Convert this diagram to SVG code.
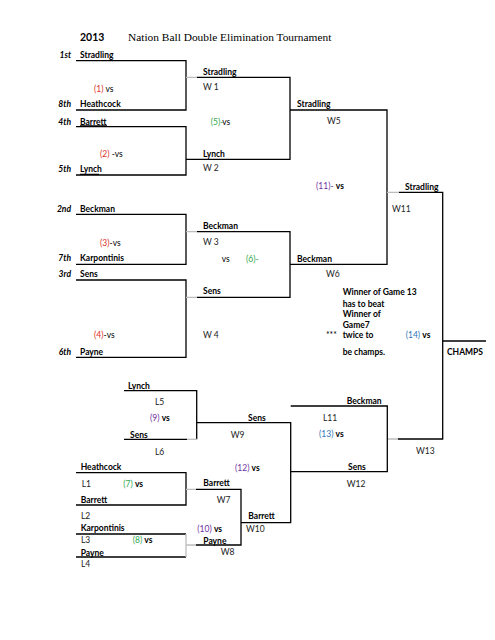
<svg xmlns="http://www.w3.org/2000/svg" width="495" height="640" viewBox="0 0 495 640">
<style>
text{font-family:Lato,"Liberation Sans",sans-serif;font-size:8.5px;fill:#000}
.n{font-weight:bold}
.r{font-weight:bold;font-style:italic;text-anchor:end}
.w{fill:#222}
.b{font-weight:bold}
.red{fill:#e0302a}
.grn{fill:#2fa84f}
.pur{fill:#7030a0}
.blu{fill:#2e75b6}
.t{font-family:"Liberation Serif",serif;font-size:11.4px}
.ln{stroke:#000;stroke-width:1.3;fill:none}
.gr{stroke:#bdbdbd;stroke-width:1.3;fill:none}
</style>
<rect width="495" height="640" fill="#fff"/>
<g id="title">
<text x="80" y="41" class="b" style="font-size:10.5px">2013</text>
<text x="128" y="41" class="t">Nation Ball Double Elimination Tournament</text>
</g>
<g id="connectors">
<path class="ln" d="M76 60.7H186V110H76M76 126.7H186V175H76M76 214.3H186V264.3H76M76 280H186V357.3H76"/>
<path class="ln" d="M80 126H107M80 174.3H99"/>
<path class="ln" d="M197 77.3H290V159.3H186M197 231.7H290V297.3H197"/>
<path class="gr" d="M186 77.3H197M186 231.7H197M186 297.3H197"/>
<path class="ln" d="M290 110H387V264.3H290"/>
<path class="ln" d="M399 192.3H442.7V439H398M442.7 341H486"/>
<path class="gr" d="M387 192.3H399M387.3 439H398"/>
<path class="ln" d="M124 390.7H196.7V439.3M187 439.3H124M196.7 422.7H290.7V522.7H241"/>
<path class="gr" d="M187 439.3H196.7"/>
<path class="ln" d="M76 472.7H186V505H76M76 534H186M186 557H76"/>
<path class="gr" d="M186 534V557"/>
<path class="ln" d="M196 489.3H241V545H196"/>
<path class="gr" d="M186 489.3H196M186 545H196"/>
<path class="ln" d="M290.7 406H387.3V471.7H290.7"/>
</g>
<g id="r1">
<text x="71" y="58" class="r">1st</text><text x="80" y="58" class="n">Stradling</text>
<text x="94" y="91.5"><tspan class="red">(1)</tspan> vs</text>
<text x="71" y="107" class="r">8th</text><text x="80" y="107" class="n">Heathcock</text>
</g>
<g id="r2">
<text x="71" y="124.5" class="r">4th</text><text x="80" y="124.5" class="n">Barrett</text>
<text x="100" y="156.5"><tspan class="red">(2)</tspan> -vs</text>
<text x="71" y="172" class="r">5th</text><text x="80" y="172" class="n">Lynch</text>
</g>
<g id="r3">
<text x="71" y="211.5" class="r">2nd</text><text x="80" y="211.5" class="n">Beckman</text>
<text x="100" y="245.5"><tspan class="red">(3)</tspan>-vs</text>
<text x="71" y="261" class="r">7th</text><text x="80" y="261" class="n">Karpontinis</text>
</g>
<g id="r4">
<text x="71" y="277" class="r">3rd</text><text x="80" y="277" class="n">Sens</text>
<text x="94" y="338"><tspan class="red">(4)</tspan>-vs</text>
<text x="71" y="354.5" class="r">6th</text><text x="80" y="354.5" class="n">Payne</text>
</g>
<g id="g5">
<text x="203" y="75" class="n">Stradling</text>
<text x="203" y="90" class="w">W 1</text>
<text x="210.7" y="125"><tspan class="grn">(5)-</tspan><tspan x="222.3">vs</tspan></text>
<text x="203" y="156.5" class="n">Lynch</text>
<text x="203" y="170.5" class="w">W 2</text>
</g>
<g id="g6">
<text x="203" y="228.5" class="n">Beckman</text>
<text x="203" y="244.5" class="w">W 3</text>
<text x="221.7" y="261.5">vs</text>
<text x="246" y="261.5" class="grn">(6)-</text>
<text x="203" y="294" class="n">Sens</text>
<text x="203" y="338" class="w">W 4</text>
</g>
<g id="g11">
<text x="297" y="107" class="n">Stradling</text>
<text x="327" y="123.5" class="w">W5</text>
<text x="316" y="189"><tspan class="pur">(11)-</tspan> <tspan class="b">vs</tspan></text>
<text x="297" y="261.5" class="n">Beckman</text>
<text x="326" y="277" class="w">W6</text>
</g>
<g id="g14">
<text x="405" y="190" class="n">Stradling</text>
<text x="392" y="211.5" class="w">W11</text>
<text x="405.7" y="337.5"><tspan class="blu">(14)</tspan> <tspan class="b">vs</tspan></text>
<text x="447" y="354.5" class="n">CHAMPS</text>
<text x="416" y="453.5" class="w">W13</text>
</g>
<g id="note">
<text x="342.7" y="295" class="b">Winner of Game 13</text>
<text x="342.7" y="306.5" class="b">has to beat</text>
<text x="342.7" y="317" class="b">Winner of</text>
<text x="342.7" y="327.5" class="b">Game7</text>
<text x="342.7" y="337.5" class="b">twice to</text>
<text x="342.7" y="355" class="b">be champs.</text>
<text x="326" y="337.5">***</text>
</g>
<g id="g9">
<text x="128" y="388.5" class="n">Lynch</text>
<text x="155" y="404.5" class="w">L5</text>
<text x="150" y="421"><tspan class="pur">(9)</tspan> <tspan class="b">vs</tspan></text>
<text x="130" y="437.5" class="n">Sens</text>
<text x="155" y="454.5" class="w">L6</text>
</g>
<g id="g12">
<text x="248" y="421" class="n">Sens</text>
<text x="230.7" y="438" class="w">W9</text>
<text x="235" y="471"><tspan class="pur">(12)</tspan> <tspan class="b">vs</tspan></text>
<text x="248.3" y="519" class="n">Barrett</text>
<text x="246" y="531.5" class="w">W10</text>
</g>
<g id="g7">
<text x="80.7" y="470" class="n">Heathcock</text>
<text x="81.7" y="486.5" class="w">L1</text>
<text x="123.3" y="486.5"><tspan class="grn">(7)</tspan> <tspan class="b">vs</tspan></text>
<text x="80.7" y="503" class="n">Barrett</text>
<text x="81" y="519" class="w">L2</text>
</g>
<g id="g8">
<text x="80.7" y="530.5" class="n">Karpontinis</text>
<text x="81" y="543" class="w">L3</text>
<text x="132.7" y="543"><tspan class="grn">(8)</tspan> <tspan class="b">vs</tspan></text>
<text x="80.7" y="555.5" class="n">Payne</text>
<text x="81" y="566.5" class="w">L4</text>
</g>
<g id="g10">
<text x="203.3" y="486" class="n">Barrett</text>
<text x="216.7" y="502.5" class="w">W7</text>
<text x="197.3" y="531.5"><tspan class="pur">(10)</tspan> <tspan class="b">vs</tspan></text>
<text x="203.3" y="543.5" class="n">Payne</text>
<text x="220.7" y="555" class="w">W8</text>
</g>
<g id="g13">
<text x="346.7" y="404" class="n">Beckman</text>
<text x="323" y="420.5" class="w">L11</text>
<text x="319" y="437"><tspan class="blu">(13)</tspan> <tspan class="b">vs</tspan></text>
<text x="348" y="470" class="n">Sens</text>
<text x="346.7" y="486.5" class="w">W12</text>
</g>
</svg>
